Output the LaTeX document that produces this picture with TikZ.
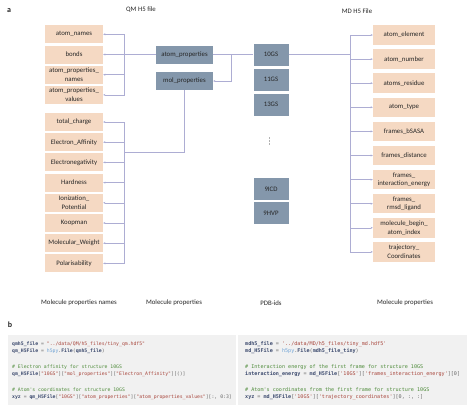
\documentclass[tikz,border=0pt]{standalone}
\usepackage{fontspec}
\setmainfont{Carlito}
\setmonofont{DejaVu Sans Mono}
\usetikzlibrary{arrows.meta}
\definecolor{peach}{HTML}{F5D9C3}
\definecolor{slate}{HTML}{8497AB}
\definecolor{wire}{HTML}{ADADD3}
\definecolor{codebg}{HTML}{F1F1F1}
\definecolor{cvar}{HTML}{3C4A6E}
\definecolor{cstr}{HTML}{A8463C}
\definecolor{ccom}{HTML}{4E8B3A}
\definecolor{cmod}{HTML}{6FA3D6}
\definecolor{cplain}{HTML}{666666}
\newcommand{\codevar}[1]{\textcolor{cvar}{\bfseries #1}}
\newcommand{\codestr}[1]{\textcolor{cstr}{#1}}
\newcommand{\codecom}[1]{\textcolor{ccom}{#1}}
\newcommand{\codemod}[1]{\textcolor{cmod}{#1}}
\begin{document}
\begin{tikzpicture}[x=1pt, y=-1pt, node distance={20.2pt},
    font=\fontsize{6.8}{8.6}\selectfont, text=black!85,
    prop/.style ={fill=peach, minimum width=58pt, minimum height=18pt, inner sep=1pt, align=center},
    mdprop/.style ={fill=peach, minimum width=62pt, minimum height=19.5pt, inner sep=1pt, align=center},
    group/.style ={fill=slate, minimum width=57pt, minimum height=18pt, inner sep=1pt},
    pdb/.style ={fill=slate, minimum width=35pt, minimum height=22pt, inner sep=1pt},
    link/.style ={draw=wire, line width=0.55pt},
    tip/.style ={link, -{Stealth[length=2.2pt, width=2pt]}},
    code/.style ={anchor=north west, align=left, inner sep=0pt, text=cplain}]
    \useasboundingbox (0,0) rectangle (474,413);

    % panel a: titles
    \node[font=\fontsize{8}{9}\selectfont\bfseries] (la) at (9,11) {a};
    \node (qmt) at (141,10) {QM H5 file};
    \node (mdt) at (357,11) {MD H5 File};

    % QM atom properties
    \node[prop] (an) at (74,34.3) {atom\_names};
    \node[prop] (bo) [below of=an] {bonds};
    \node[prop] (apn) [below of=bo] {atom\_properties\_\\names};
    \node[prop] (apv) [below of=apn] {atom\_properties\_\\values};

    % QM molecule properties
    \node[prop] (tc) at (74,122) {total\_charge};
    \node[prop] (ea) [below of=tc] {Electron\_Affinity};
    \node[prop] (en) [below of=ea] {Electronegativity};
    \node[prop] (ha) [below of=en] {Hardness};
    \node[prop] (ip) [below of=ha] {Ionization\_\\Potential};
    \node[prop] (ko) [below of=ip] {Koopman};
    \node[prop] (mw) [below of=ko] {Molecular\_Weight};
    \node[prop] (po) [below of=mw] {Polarisability};

    \node[group] (ap) at (184.5,54.5) {atom\_properties};
    \node[group] (mp) at (184.5,81) {mol\_properties};

    % PDB ids
    \node[pdb] (g1) at (271,54.5) {10GS};
    \node[pdb] (g2) [below of=g1, node distance=25pt] {11GS};
    \node[pdb] (g3) [below of=g2, node distance=25pt] {13GS};
    \node[pdb] (g4) at (271,189) {9ICD};
    \node[pdb] (g5) [below of=g4, node distance=24pt] {9HVP};
    \draw[gray!60, densely dotted] (269,137) -- (269,145);

    % MD properties
    \node[mdprop] (ae) at (404,35) {atom\_element};
    \node[mdprop] (anu) [below of=ae, node distance=24.1pt] {atom\_number};
    \node[mdprop] (ar) [below of=anu, node distance=24.1pt] {atoms\_residue};
    \node[mdprop] (at) [below of=ar, node distance=24.1pt] {atom\_type};
    \node[mdprop] (fb) [below of=at, node distance=24.1pt] {frames\_bSASA};
    \node[mdprop] (fd) [below of=fb, node distance=24.1pt] {frames\_distance};
    \node[mdprop] (fi) [below of=fd, node distance=24.1pt] {frames\_\\interaction\_energy};
    \node[mdprop] (fr) [below of=fi, node distance=24.1pt] {frames\_\\rmsd\_ligand};
    \node[mdprop] (mb) [below of=fr, node distance=24.1pt] {molecule\_begin\_\\atom\_index};
    \node[mdprop] (tr) [below of=mb, node distance=24.1pt] {trajectory\_\\Coordinates};

    \coordinate (qa) at (124,54.5);
    \coordinate (qb) at (124,152);
    \coordinate (qc) at (231,54.5);
    \coordinate (ma) at (350,54.5);

    \draw[tip] (ap) -- (bo);
    \draw[tip] (qa) |- (an);
    \draw[tip] (qa) |- (apn);
    \draw[tip] (qa) |- (apv);
    \draw[link] (mp) |- (qb);
    \draw[tip] (qb) |- (tc);
    \draw[tip] (qb) |- (ea);
    \draw[tip] (qb) |- (en);
    \draw[tip] (qb) |- (ha);
    \draw[tip] (qb) |- (ip);
    \draw[tip] (qb) |- (ko);
    \draw[tip] (qb) |- (mw);
    \draw[tip] (qb) |- (po);
    \draw[link] (ap) -- (g1);
    \draw[tip] (qc) |- (mp);
    \draw[link] (g1) -- (ma);
    \draw[tip] (ma) |- (ae);
    \draw[tip] (ma) |- (anu);
    \draw[tip] (ma) |- (ar);
    \draw[tip] (ma) |- (at);
    \draw[tip] (ma) |- (fb);
    \draw[tip] (ma) |- (fd);
    \draw[tip] (ma) |- (fi);
    \draw[tip] (ma) |- (fr);
    \draw[tip] (ma) |- (mb);
    \draw[tip] (ma) |- (tr);

    % column captions
    \node (c1) at (79,303) {Molecule properties names};
    \node (c2) at (174,303) {Molecule properties};
    \node (c3) at (271,303) {PDB-ids};
    \node (c4) at (405,303) {Molecule properties};

    % panel b: code
    \node[font=\fontsize{8}{9}\selectfont\bfseries] (lb) at (10,325) {b};
    \fill[codebg] (8,335) rectangle (236,405);
    \fill[codebg] (238,335) rectangle (467,405);
    \node[code, font=\fontsize{4.8}{7}\ttfamily] (cqm) at (12,341) {%
      \codevar{qmh5\_file} = \codestr{"../data/QM/h5\_files/tiny\_qm.hdf5"}\\
      \codevar{qm\_H5File} = \codemod{h5py}.\codevar{File}(\codevar{qmh5\_file})\\[9pt]
      \codecom{\# Electron affinity for structure 10GS}\\
      \codevar{qm\_H5File}[\codestr{"10GS"}][\codestr{"mol\_properties"}][\codestr{"Electron\_Affinity"}][()]\\[9pt]
      \codecom{\# Atom's coordinates for structure 10GS}\\
      \codevar{xyz} = \codevar{qm\_H5File}[\codestr{"10GS"}][\codestr{"atom\_properties"}][\codestr{"atom\_properties\_values"}][:, 0:3]};
    \node[code, font=\fontsize{5.1}{7}\ttfamily] (cmd) at (245,341) {%
      \codevar{mdh5\_file} = \codestr{'../data/MD/h5\_files/tiny\_md.hdf5'}\\
      \codevar{md\_H5File} = \codemod{h5py}.\codevar{File}(\codevar{mdh5\_file\_tiny})\\[9pt]
      \codecom{\# Interaction energy of the first frame for structure 10GS}\\
      \codevar{interaction\_energy} = \codevar{md\_H5File}[\codestr{'10GS'}][\codestr{'frames\_interaction\_energy'}][0]\\[9pt]
      \codecom{\# Atom's coordinates from the first frame for structure 10GS}\\
      \codevar{xyz} = \codevar{md\_H5File}[\codestr{'10GS'}][\codestr{'trajectory\_coordinates'}][0, :, :]};
\end{tikzpicture}
\end{document}
